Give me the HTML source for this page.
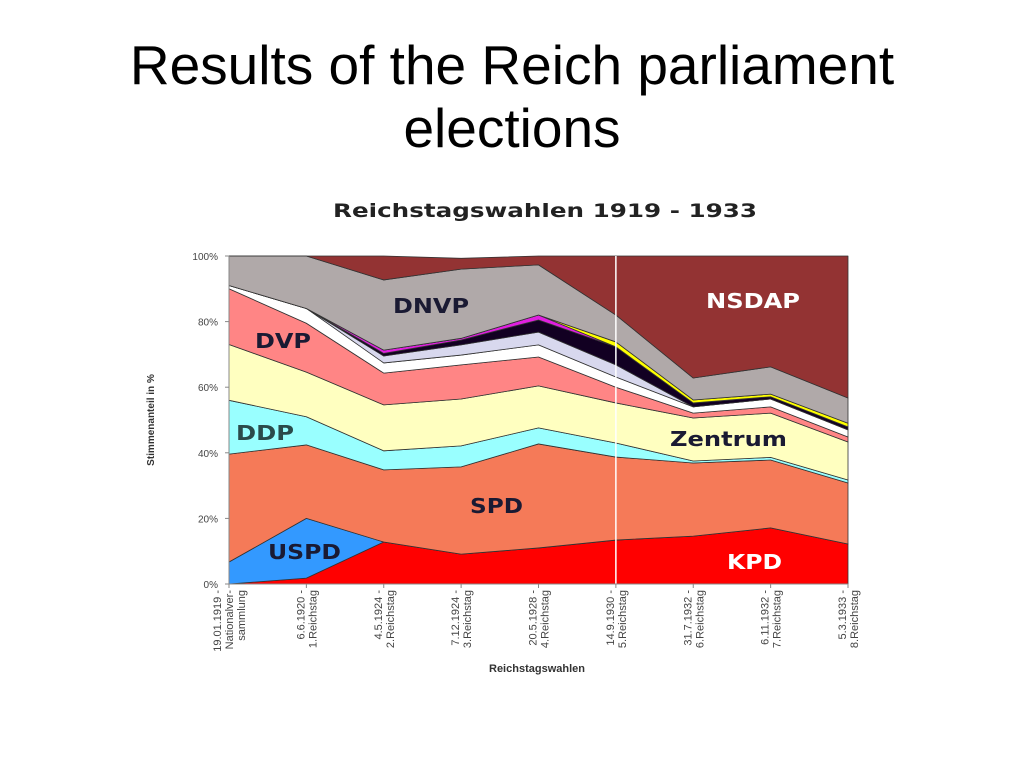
<!DOCTYPE html>
<html><head><meta charset="utf-8"><style>
body{margin:0;background:#fff;width:1024px;height:768px;overflow:hidden;font-family:"Liberation Sans",sans-serif}
#t{position:absolute;left:32px;top:34px;width:960px;text-align:center;font-size:55px;line-height:63px;color:#000}
svg{position:absolute;left:0;top:0}
</style></head><body>
<div id="t">Results of the Reich parliament<br>elections</div>
<svg id="c" width="1024" height="768"></svg>
<script>
const categories=["19.01.1919 -|Nationalver-|sammlung","6.6.1920 -|1.Reichstag","4.5.1924 -|2.Reichstag","7.12.1924 -|3.Reichstag","20.5.1928 -|4.Reichstag","14.9.1930 -|5.Reichstag","31.7.1932 -|6.Reichstag","6.11.1932 -|7.Reichstag","5.3.1933 -|8.Reichstag"];
const parties=["KPD","USPD","SPD","DDP","Zentrum","DVP","BVP","WP","Others","CSVD","Landvolk","DNVP","NSDAP"];
const kpd=[0,1.8,12.8,9.1,11,13.4,14.6,17.1,12.2];
const uspd=[6.7,18.2,0,0,0,0,0,0,0];
const spd=[32.9,22.4,22,26.6,31.7,25.3,22.3,20.7,18.6];
const ddp=[16.4,8.6,5.8,6.4,4.9,4.3,0.6,0.8,0.9];
const zentrum=[17,13.6,14,14.3,12.8,12.2,13.1,13.5,11.6];
const dvp=[17,14.9,9.7,10.4,8.8,4.8,1.5,1.9,1.5];
const bvp=[1,4.5,3.1,3,3.7,3.1,1.9,2.4,2.2];
const wp=[0,0,2.1,3.1,3.9,3.7,0,0,0];
const others=[0,0,0.8,1.5,3.7,5.5,1.2,0.7,0.9];
const csvd=[0,0,1,0.5,1.5,0,0,0,0];
const landvolk=[0,0,0,0,0,1.5,0.9,0.8,1.1];
const dnvp=[9,16,21.4,21.1,15.3,8.2,6.7,8.3,7.7];
const nsdap=[0,0,7.3,3.3,2.7,18,37.2,33.8,43.3];
const yTicks=[0,20,40,60,80,100];
const series=[kpd,uspd,spd,ddp,zentrum,dvp,bvp,wp,others,csvd,landvolk,dnvp,nsdap];
const colors=["#ff0000","#3399ff","#f57a58","#99ffff","#ffffc0","#ff8585","#ffffff","#d8d8ee","#120022","#e020e0","#ffff00","#b0a9a9","#933333"];
const X0=229,X1=848,Y0=584,Y1=256;
const xs=i=>X0+(X1-X0)*i/(categories.length-1);
const ys=v=>Y0-(Y0-Y1)*Math.min(v,100)/100;
const svg=document.getElementById('c');const NS="http://www.w3.org/2000/svg";
function mk(t,a,p){const e=document.createElementNS(NS,t);for(const k in a)e.setAttribute(k,a[k]);(p||svg).appendChild(e);return e;}
const bg=mk('rect',{x:120,y:185,width:748,height:510,fill:'#fff'});


const tt=mk('text',{x:333,y:217,'font-size':19,'font-weight':'bold',fill:'#222','font-family':'DejaVu Sans, sans-serif',textLength:424,lengthAdjust:'spacingAndGlyphs'});tt.textContent="Reichstagswahlen 1919 - 1933";


let cum=categories.map(()=>0);
series.forEach((s,k)=>{
  const lo=cum.slice();const hi=cum.map((c,i)=>c+s[i]);
  let d="";hi.forEach((v,i)=>d+=(i?"L":"M")+xs(i)+","+ys(v));
  for(let i=lo.length-1;i>=0;i--)d+="L"+xs(i)+","+ys(lo[i]);
  const p=mk('path',{d:d+"Z",fill:colors[k],stroke:'#333','stroke-width':0.8,'stroke-linejoin':'round'});
  
  
  cum=hi;
});
const vl=mk('line',{x1:xs(5),x2:xs(5),y1:Y1,y2:Y0,stroke:'#fff','stroke-width':1.5});


mk('line',{x1:X0,x2:X0,y1:Y1,y2:Y0,stroke:'#888'});
mk('line',{x1:X0,x2:X1,y1:Y0,y2:Y0,stroke:'#888'});
yTicks.forEach(v=>{
  mk('line',{x1:X0-4,x2:X0,y1:ys(v),y2:ys(v),stroke:'#888'});
  const t=mk('text',{x:X0-11,y:ys(v)+4,'text-anchor':'end','font-size':10,fill:'#444'});t.textContent=v+"%";
  
  
});
categories.forEach((c,i)=>{
  const x=xs(i);mk('line',{x1:x,x2:x,y1:Y0,y2:Y0+4,stroke:'#888'});
  const lines=c.split('|');
  const g=mk('text',{transform:`translate(${x-(lines.length-1)*6+4},590) rotate(-90)`,'text-anchor':'end','font-size':11,fill:'#444'});
  
  
  lines.forEach((l,j)=>{const ts=mk('tspan',{x:0,dy:j?12:0},g);ts.textContent=l;});
});
const xt=mk('text',{x:537,y:672,'text-anchor':'middle','font-size':11,'font-weight':'bold',fill:'#333'});xt.textContent="Reichstagswahlen";


const yt=mk('text',{transform:'translate(154,420) rotate(-90)','text-anchor':'middle','font-size':10,'font-weight':'bold',fill:'#333'});yt.textContent="Stimmenanteil in %";


const labels=[["DNVP",393,313,"#1a1a33",76],["DVP",255,348,"#1a1a33",56],["DDP",236,440,"#2a4a4a",58],["SPD",470,513,"#1a1a33",53],["USPD",268,559,"#1a1a33",73],["NSDAP",706,308,"#fff",94],["Zentrum",670,446,"#1a1a33",117],["KPD",727,569,"#fff",55]];
labels.forEach(l=>{const t=mk('text',{x:l[1],y:l[2],'font-size':20,'font-weight':'bold',fill:l[3],'font-family':'DejaVu Sans, sans-serif',textLength:l[4],lengthAdjust:'spacingAndGlyphs'});t.textContent=l[0];
  
  });
</script>
</body></html>
